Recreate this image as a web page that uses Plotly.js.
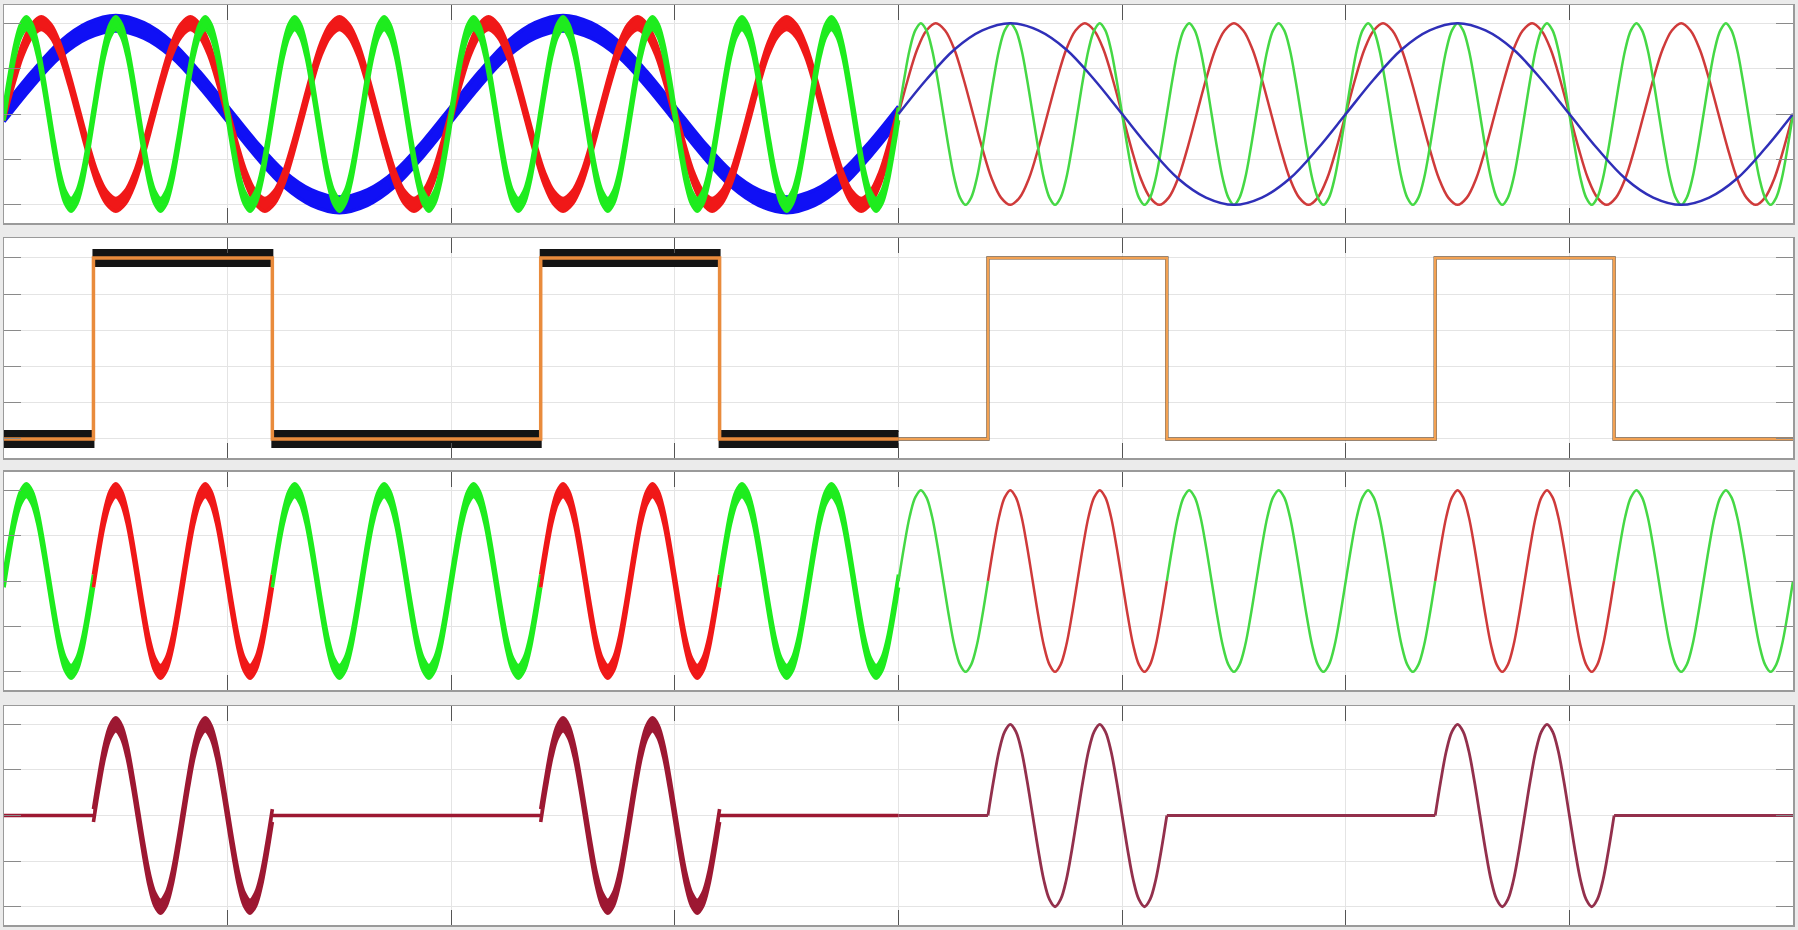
<!DOCTYPE html>
<html>
<head>
<meta charset="utf-8">
<script src="https://cdn.plot.ly/plotly-3.0.1.min.js"></script>
<style>
html,body{margin:0;padding:0;background:#ebebeb;}
#chart{width:1798px;height:930px;}
</style>
</head>
<body>
<div id="chart"></div>
<script>
// ---- data ----
// one cycle of the waveform, read at 16 even steps (crossing, rise, peak, fall, trough ...)
const cycleShape = [0,0.38,0.71,0.92,1,0.92,0.71,0.38,0,-0.38,-0.71,-0.92,-1,-0.92,-0.71,-0.38];
// cycles per x-unit of the three traces in panel 1 (blue, red, green); green is also the carrier of panels 3-4
const blueCycles = 0.5;
const redCycles = 1.5;
const greenCycles = 2.5;
const timeSpan = [0, 8];
// gate (square wave, panel 2): switching instants and levels
const gateT = [0,0.4,1.2,2.4,3.2,4.4,5.2,6.4,7.2,8];
const gateY = [0,1,0,1,0,1,0,1,0,0];

// ---- styling ----
const SPLIT = 4;          // left half: dense/noisy capture, right half: clean
const STEPS = cycleShape.length;
const C = {
  blueL:'#1010f5', blueR:'#2f2fb8',
  redL:'#f01818', redR:'#cf3a3a',
  greenL:'#1eec1e', greenR:'#45d845',
  black:'#141414',
  orangeL:'#e98b3c', orangeR:'#f2a152',
  wineL:'#9d1832', wineR:'#93304c'
};

// periodic trace built by repeating the read cycle
function wave(cycles){
  const n = Math.round(STEPS * cycles * (timeSpan[1]-timeSpan[0]));
  const x=[], y=[];
  for(let i=0;i<=n;i++){ x.push(timeSpan[0] + i/(STEPS*cycles)); y.push(cycleShape[i % STEPS]); }
  return {x, y};
}
function axn(k, p){ return k===1 ? p : p + k; }
function seg(w, a, b){
  const x=[], y=[];
  for(let i=0;i<w.x.length;i++){
    if(w.x[i] >= a-1e-7 && w.x[i] <= b+1e-7){ x.push(w.x[i]); y.push(w.y[i]); }
  }
  return {x, y};
}
function gateAt(t){ let v=gateY[0]; for(let i=0;i<gateT.length;i++){ if(gateT[i] <= t+1e-9) v=gateY[i]; } return v; }
function gateSeg(a, b){
  const x=[a], y=[gateAt(a)];
  for(let i=0;i<gateT.length;i++){ if(gateT[i] > a+1e-9 && gateT[i] < b-1e-9){ x.push(gateT[i]); y.push(gateY[i]); } }
  x.push(b); y.push(gateAt(b-1e-6));
  return {x, y};
}
function line(s, k, color, width, shape){
  return {x:s.x, y:s.y, xaxis:axn(k,'x'), yaxis:axn(k,'y'), mode:'lines',
    line:{color:color, width:width, shape:shape||'spline', smoothing:1, simplify:false},
    hoverinfo:'skip', showlegend:false};
}
function band(s, k, color, width, half, shape){
  const up = {x:s.x, y:s.y.map(v=>v+half)};
  const lo = {x:s.x, y:s.y.map(v=>v-half)};
  const t1 = line(up, k, color, width, shape);
  const t2 = line(lo, k, color, width, shape);
  t2.fill = 'tonexty'; t2.fillcolor = color;
  return [t1, t2];
}

const blue = wave(blueCycles), red = wave(redCycles), green = wave(greenCycles);
const cuts = Array.from(new Set(gateT.concat([SPLIT]))).sort((a,b)=>a-b);

const data = [];
const H1 = 0.07, H2 = 0.044, BW = 3.6;

// Panel 1
data.push(...band(seg(blue,0,SPLIT),1,C.blueL,BW,H1+0.015));
data.push(...band(seg(red,0,SPLIT),1,C.redL,BW,H1));
data.push(...band(seg(green,0,SPLIT),1,C.greenL,BW,H1));
data.push(line(seg(red,SPLIT,8),1,C.redR,2.5));
data.push(line(seg(green,SPLIT,8),1,C.greenR,2.5));
data.push(line(seg(blue,SPLIT,8),1,C.blueR,2.5));

// Panel 2
data.push(...band(gateSeg(0,SPLIT),2,C.black,2,H2,'hv'));
{
  const t = line(gateSeg(SPLIT,8),2,C.black,3.3,'hv'); t.opacity = 0.75; data.push(t);
}
data.push(line(gateSeg(0,SPLIT),2,C.orangeL,3.5,'hv'));
data.push(line(gateSeg(SPLIT,8),2,C.orangeR,2.6,'hv'));

// Panels 3 and 4 (carrier coloured by gate; gated burst)
for(let i=0;i<cuts.length-1;i++){
  const a=cuts[i], b=cuts[i+1];
  const on = gateAt(a+1e-6) === 1;
  const left = b <= SPLIT+1e-9;
  const s3 = seg(green,a,b);
  const col3 = on ? (left?C.redL:C.redR) : (left?C.greenL:C.greenR);
  if(left) data.push(...band(s3,3,col3,BW,H1));
  else data.push(line(s3,3,col3,2.5));

  const col4 = left?C.wineL:C.wineR;
  if(on){
    if(left) data.push(...band(s3,4,col4,BW,H1));
    else data.push(line(s3,4,col4,2.8));
  } else {
    data.push(line({x:[a,b],y:[0,0]},4,col4,left?3.5:2.8,'linear'));
  }
}

// ---- layout ----
const domains = [[0.7630,1],[0.5076,0.7467],[0.2554,0.4924],[0,0.2380]];
const yr = [[-1.2,1.2],[-0.105,1.11],[-1.2,1.2],[-1.2,1.2]];
const yd = [0.5,0.2,0.5,0.5];
const layout = {
  width:1798, height:930,
  margin:{l:4,r:5,t:5,b:5},
  paper_bgcolor:'#ebebeb', plot_bgcolor:'#ffffff',
  showlegend:false
};
for(let k=1;k<=4;k++){
  layout[axn(k,'xaxis')] = {
    domain:[0,1], anchor:axn(k,'y'), range:[0,8], tick0:0, dtick:1,
    showticklabels:false, ticks:'inside', ticklen:15, tickcolor:'#555', tickwidth:1,
    showgrid:true, gridcolor:'#e4e4e4', gridwidth:1, zeroline:false,
    showline:true, linecolor:'#9a9a9a', linewidth:1.5, mirror:'ticks', fixedrange:true
  };
  layout[axn(k,'yaxis')] = {
    domain:domains[k-1], anchor:axn(k,'x'), range:yr[k-1], tick0:0, dtick:yd[k-1],
    showticklabels:false, ticks:'inside', ticklen:17, tickcolor:'#8a8a8a', tickwidth:1,
    showgrid:true, gridcolor:'#e4e4e4', gridwidth:1, zeroline:false,
    showline:true, linecolor:'#9a9a9a', linewidth:1.5, mirror:'ticks', fixedrange:true
  };
}
Plotly.newPlot('chart', data, layout, {displayModeBar:false, staticPlot:true});
</script>
</body>
</html>
